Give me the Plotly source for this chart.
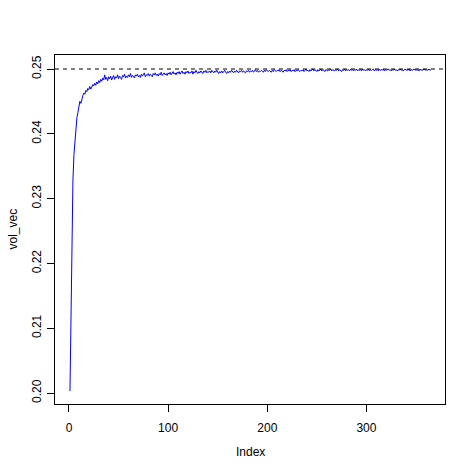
import plotly.graph_objects as go

vol_vec = [
    0.2003, 0.2128, 0.2263, 0.2329, 0.2368, 0.2391, 0.2410, 0.2425, 0.2433, 0.2441,
    0.2450, 0.2447, 0.2456, 0.2459, 0.2463, 0.2461, 0.2467, 0.2465, 0.2470, 0.2468,
    0.2473, 0.2469, 0.2472, 0.2476, 0.2474, 0.2478, 0.2475, 0.2480, 0.2477, 0.2482,
    0.2479, 0.2484, 0.2481, 0.2486, 0.2483, 0.2491, 0.2484, 0.2487, 0.2482, 0.2488,
    0.2485, 0.2489, 0.2483, 0.2487, 0.2490, 0.2484, 0.2488, 0.2486, 0.2491, 0.2485,
    0.2489, 0.2487, 0.2484, 0.2490, 0.2488, 0.2492, 0.2486, 0.2489, 0.2487, 0.2491,
    0.2488, 0.2493, 0.2487, 0.2490, 0.2489, 0.2486, 0.2491, 0.2489, 0.2492, 0.2488,
    0.2490, 0.2487, 0.2492, 0.2489, 0.2491, 0.2494, 0.2488, 0.2491, 0.2490, 0.2493,
    0.2489, 0.2492, 0.2490, 0.2488, 0.2493, 0.2491, 0.2494, 0.2490, 0.2492, 0.2489,
    0.2493, 0.2491, 0.2495, 0.2490, 0.2492, 0.2494, 0.2491, 0.2493, 0.2490, 0.2494,
    0.2492, 0.2495, 0.2491, 0.2493, 0.2496, 0.2492, 0.2494, 0.2491, 0.2495, 0.2493,
    0.2496, 0.2492, 0.2494, 0.2497, 0.2493, 0.2495, 0.2492, 0.2496, 0.2494, 0.2497,
    0.2493, 0.2495, 0.2494, 0.2497, 0.2492, 0.2496, 0.2494, 0.2498, 0.2495, 0.2493,
    0.2496, 0.2494, 0.2497, 0.2495, 0.2493, 0.2497, 0.2495, 0.2498, 0.2494, 0.2496,
    0.2495, 0.2497, 0.2494, 0.2498, 0.2496, 0.2494, 0.2497, 0.2495, 0.2498, 0.2496,
    0.2493, 0.2496, 0.2494, 0.2497, 0.2494, 0.2496, 0.2498, 0.2495, 0.2493, 0.2496,
    0.2494, 0.2497, 0.2495, 0.2498, 0.2496, 0.2494, 0.2497, 0.2495, 0.2498, 0.2496,
    0.2494, 0.2497, 0.2496, 0.2498, 0.2495, 0.2497, 0.2496, 0.2494, 0.2497, 0.2496,
    0.2498, 0.2495, 0.2497, 0.2496, 0.2498, 0.2495, 0.2497, 0.2499, 0.2496, 0.2498,
    0.2495, 0.2497, 0.2496, 0.2498, 0.2497, 0.2495, 0.2498, 0.2496, 0.2499, 0.2497,
    0.2496, 0.2498, 0.2497, 0.2495, 0.2498, 0.2496, 0.2499, 0.2497, 0.2496, 0.2498,
    0.2497, 0.2499, 0.2496, 0.2498, 0.2497, 0.2495, 0.2498, 0.2497, 0.2499, 0.2496,
    0.2498, 0.2497, 0.2499, 0.2496, 0.2498, 0.2497, 0.2499, 0.2496, 0.2498, 0.2497,
    0.2499, 0.2497, 0.2496, 0.2498, 0.2497, 0.2499, 0.2496, 0.2498, 0.2500, 0.2497,
    0.2498, 0.2496, 0.2499, 0.2497, 0.2498, 0.2500, 0.2497, 0.2499, 0.2498, 0.2496,
    0.2499, 0.2497, 0.2498, 0.2500, 0.2497, 0.2499, 0.2498, 0.2496, 0.2499, 0.2498,
    0.2497, 0.2499, 0.2498, 0.2500, 0.2497, 0.2499, 0.2498, 0.2497, 0.2499, 0.2498,
    0.2500, 0.2497, 0.2499, 0.2498, 0.2496, 0.2499, 0.2498, 0.2500, 0.2497, 0.2499,
    0.2498, 0.2499, 0.2497, 0.2500, 0.2498, 0.2499, 0.2497, 0.2499, 0.2498, 0.2500,
    0.2497, 0.2499, 0.2498, 0.2499, 0.2497, 0.2500, 0.2498, 0.2499, 0.2497, 0.2499,
    0.2498, 0.2500, 0.2497, 0.2499, 0.2498, 0.2499, 0.2500, 0.2497, 0.2499, 0.2498,
    0.2499, 0.2497, 0.2500, 0.2498, 0.2499, 0.2498, 0.2500, 0.2497, 0.2499, 0.2498,
    0.2499, 0.2500, 0.2498, 0.2499, 0.2497, 0.2499, 0.2498, 0.2500, 0.2498, 0.2499,
    0.2497, 0.2499, 0.2498, 0.2500, 0.2498, 0.2499, 0.2497, 0.2499, 0.2500, 0.2498,
    0.2499, 0.2498, 0.2500, 0.2497, 0.2499, 0.2498, 0.2499, 0.2500, 0.2498, 0.2499,
    0.2498, 0.2499, 0.2497, 0.2500, 0.2498, 0.2499, 0.2498, 0.2500, 0.2499, 0.2498,
    0.2499, 0.2498, 0.2500, 0.2498, 0.2499,
]
index = list(range(1, len(vol_vec) + 1))
ref_level = 0.25
x_ticks = [0, 100, 200, 300]
y_ticks = [0.20, 0.21, 0.22, 0.23, 0.24, 0.25]
y_tick_text = ["0.20", "0.21", "0.22", "0.23", "0.24", "0.25"]

FONT = "Liberation Sans, Arial, sans-serif"

fig = go.Figure()
fig.add_trace(go.Scatter(x=index, y=vol_vec, mode="lines",
                         line=dict(color="#0000FF", width=1), showlegend=False,
                         hoverinfo="skip"))
fig.add_shape(type="line", xref="paper", x0=0, x1=1, yref="y", y0=ref_level, y1=ref_level,
              line=dict(color="#000000", width=1, dash="4px,4px"))

fig.update_layout(
    width=474, height=474,
    margin=dict(l=55, r=29, t=55, b=70),
    paper_bgcolor="white", plot_bgcolor="white",
    font=dict(family=FONT, size=12, color="#000000"),
    xaxis=dict(range=[-14.1, 379.2], tickvals=x_ticks, ticks="outside", ticklen=7,
               tickcolor="#000", showline=True, linecolor="#000", linewidth=1, mirror=True,
               showgrid=False, zeroline=False, ticklabelstandoff=6),
    yaxis=dict(range=[0.19831, 0.25216], tickvals=y_ticks, ticktext=y_tick_text,
               ticks="outside", ticklen=7, tickcolor="#000", tickangle=-90,
               showline=True, linecolor="#000", linewidth=1, mirror=True,
               showgrid=False, zeroline=False, ticklabelstandoff=1),
    annotations=[
        dict(text="Index", xref="paper", yref="paper", x=0.5, y=-48/349, xanchor="center",
             yanchor="middle", showarrow=False, font=dict(family=FONT, size=12)),
        dict(text="vol_vec", xref="paper", yref="paper", x=-43/390, y=0.5, xanchor="center",
             yanchor="middle", textangle=-90, showarrow=False, font=dict(family=FONT, size=12)),
    ],
)

fig.write_html("out.html", config={"displayModeBar": False},
               post_script="document.body.style.margin='0';document.body.style.overflow='hidden';")
